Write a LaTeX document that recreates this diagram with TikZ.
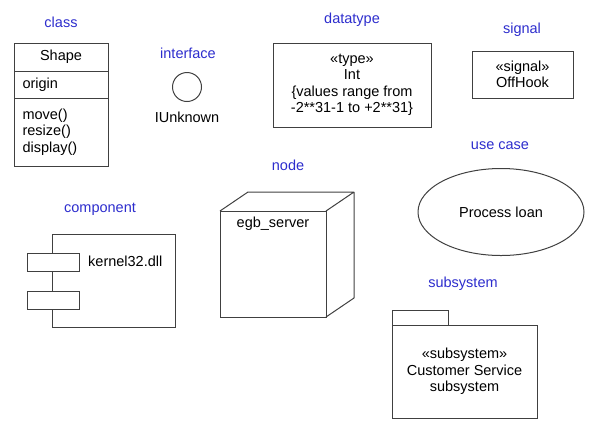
\documentclass[tikz,border=0pt]{standalone}
\usepackage{fontspec}
\setmainfont{Liberation Sans}
\usetikzlibrary{positioning,shapes.geometric}
\definecolor{kindblue}{RGB}{45,45,205}
\begin{document}
\begin{tikzpicture}[x=1bp,y=-1bp]
\tikzset{every node/.style={font=\fontsize{14.5bp}{16.5bp}\selectfont, inner sep=0pt}}
\tikzset{kind/.style={text=kindblue}}
\tikzset{box/.style={draw=black!75, line width=1bp, outer sep=0pt}}
\tikzset{part/.style={box, minimum width=94bp, text width=77bp, align=left, inner xsep=8.5bp}}
\useasboundingbox (0,0) rectangle (592,425);
% kind labels
\node[kind] (lclass) at (61,22) {class};
\node[kind] (linterface) at (188,53) {interface};
\node[kind] (ldatatype) at (352,20) {datatype};
\node[kind] (lsignal) at (522,30) {signal};
\node[kind] (lcomponent) at (100,209) {component};
\node[kind] (lnode) at (288,165) {node};
\node[kind] (lusecase) at (500,146) {use case};
\node[kind] (lsubsystem) at (463,284) {subsystem};
% class
\node[box, minimum width=94bp, minimum height=28bp, anchor=north west] (shape) at (14,43) {Shape};
\node[part, minimum height=27bp, below=0pt of shape] (origin) {origin};
\node[part, minimum height=68bp, below=0pt of origin] (ops) {move()\\resize()\\display()};
% interface
\node[box, circle, minimum size=29bp] (iunk) at (187,87) {};
\node (iunkname) at (187,117) {IUnknown};
% datatype
\node[box, minimum width=158bp, minimum height=84bp, align=center] (int) at (352,85)
  {«type»\\Int\\\{values range from\\-2**31-1 to +2**31\}};
% signal
\node[box, minimum width=101bp, minimum height=47bp, align=center] (offhook) at (522.5,74.5)
  {«signal»\\OffHook};
% component
\node[box, minimum width=123bp, minimum height=93bp, anchor=north west] (kernel) at (52,234) {};
\node[box, fill=white, minimum width=52bp, minimum height=18bp] (port1) at (53,262) {};
\node[box, fill=white, minimum width=52bp, minimum height=18bp] (port2) at (53,300) {};
\node[anchor=west] (kernelname) at (88,261) {kernel32.dll};
% node
\node[box, minimum width=106bp, minimum height=106bp, anchor=north west] (server) at (220,211) {};
\draw[box, line join=round] (server.north west) -- ++(28,-19) -- ++(106,0) -- ++(0,106) -- (server.south east)
  (server.north east) -- ++(28,-19);
\node (servername) at (273,224) {egb\_server};
% use case
\node[box, ellipse, minimum width=166bp, minimum height=87bp] (loan) at (501,212) {Process loan};
% subsystem
\node[box, minimum width=56bp, minimum height=15bp, anchor=north west] (tab) at (392,310) {};
\node[box, minimum width=145bp, minimum height=93bp, align=center, below=0pt of tab.south west, anchor=north west]
  (customer) {«subsystem»\\Customer Service\\subsystem};
\end{tikzpicture}
\end{document}
